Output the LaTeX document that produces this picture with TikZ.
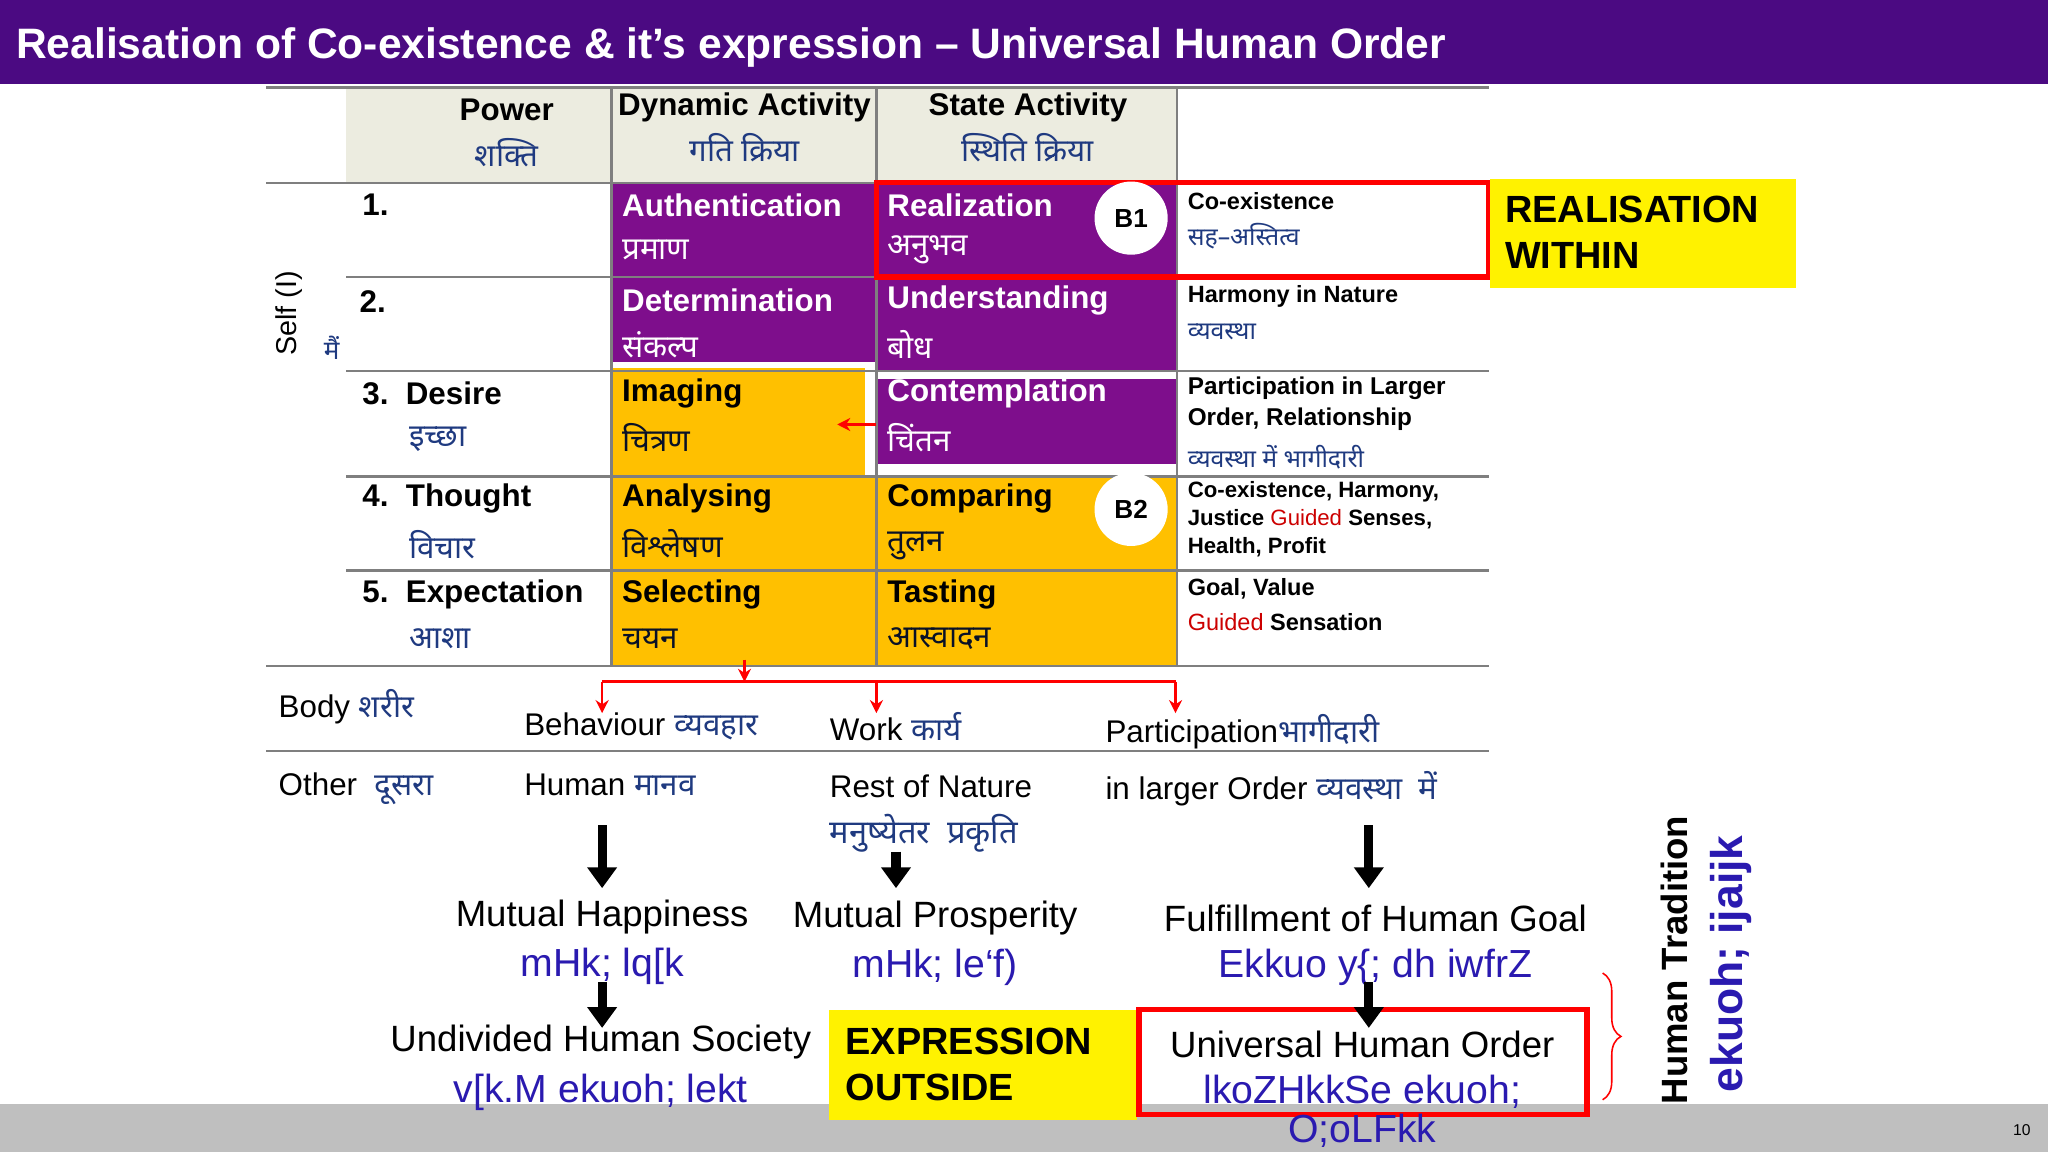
\documentclass[tikz,border=0pt]{standalone}
\usepackage{fontspec}
\setmainfont{Liberation Sans}
\newfontfamily\hin[Script=Devanagari]{Noto Sans}
\usetikzlibrary{arrows.meta,decorations.pathreplacing}
\definecolor{ttl}{HTML}{4B0A82}
\definecolor{pur}{HTML}{7E0E8C}
\definecolor{org}{HTML}{FFC000}
\definecolor{bei}{HTML}{ECECE0}
\definecolor{hb}{HTML}{1F3A80}
\definecolor{kb}{HTML}{2A1AB0}
\definecolor{gbar}{HTML}{BFBFBF}
\definecolor{gl}{HTML}{7F7F7F}
\tikzset{
 en/.style={anchor=west,inner sep=0pt,font=\fontsize{12}{13}\selectfont\bfseries},
 hi/.style={anchor=west,inner sep=0pt,font=\fontsize{12}{13}\hin,text=hb},
 wen/.style={en,text=white},
 whi/.style={hi,text=white},
 sm/.style={anchor=west,inner sep=0pt,font=\fontsize{9}{11}\selectfont\bfseries,align=left},
 smh/.style={anchor=west,inner sep=0pt,font=\fontsize{9.5}{11}\hin,text=hb},
 lo/.style={anchor=west,inner sep=0pt,font=\fontsize{12}{14}\selectfont},
 loh/.style={anchor=west,inner sep=0pt,font=\fontsize{12.5}{14}\hin,text=hb},
 big/.style={inner sep=0pt,font=\fontsize{14}{16}\selectfont},
 kru/.style={inner sep=0pt,font=\fontsize{15}{16}\selectfont,text=kb},
 rl/.style={gl,line width=1pt},
 circ/.style={circle,fill=white,minimum size=28pt,inner sep=0pt,font=\fontsize{10}{12}\selectfont\bfseries},
 rarr/.style={red,line width=1pt,-{Stealth[length=5pt,width=5pt]}},
 barr/.style={black,line width=3.5pt,-{Triangle[length=8pt,width=11pt]}},
 ybox/.style={fill=yellow,inner sep=0pt},
}
\begin{document}
\begin{tikzpicture}[x=0.5pt,y=-0.5pt]
\useasboundingbox (0,0) rectangle (1568,882);
\fill[white] (0,0) rectangle (1568,882);
% bars
\fill[ttl] (0,0) rectangle (1568,64);
\node[anchor=west,inner sep=0pt,text=white,font=\fontsize{16.3}{18}\selectfont\bfseries] (title) at (12,36) {Realisation of Co-existence \& it’s expression – Universal Human Order};
\fill[gbar] (0,845) rectangle (1568,882);
\node[inner sep=0pt,font=\fontsize{6}{7}\selectfont] (pg) at (1548,865) {10};
% table fills
\fill[bei] (265,67) rectangle (901,140);
\fill[pur] (468,140) rectangle (901,277);
\fill[pur] (671,277) rectangle (901,284);
\fill[org] (468,282) rectangle (662,365);
\fill[white] (662,282) rectangle (671,365);
\fill[pur] (671,290) rectangle (901,355);
\fill[org] (468,365) rectangle (901,510);
% lines
\draw[rl] (204,67) -- (1140,67);
\draw[rl] (204,140) -- (1140,140);
\foreach \yy in {212,284,365,437} \draw[rl] (265,\yy) -- (1140,\yy);
\draw[rl] (204,510) -- (1140,510);
\foreach \xx in {468,671,901} \draw[rl] (\xx,67) -- (\xx,510);
\draw[rl] (204,575) -- (1140,575);
\draw[red,line width=2pt] (671,140) rectangle (1140,212);
% header
\node[en,anchor=center] (hp) at (388,84) {Power};
\node[hi,anchor=center] (hph) at (388,117) {शक्ति};
\node[en,anchor=center] (hd) at (570,82) {Dynamic Activity};
\node[hi,anchor=center] (hdh) at (570,113) {गति क्रिया};
\node[en,anchor=center] (hs) at (787,82) {State  Activity};
\node[hi,anchor=center] (hsh) at (787,113) {स्थिति क्रिया};
% left labels
\node[rotate=90,inner sep=0pt,font=\fontsize{11}{13}\selectfont] (self) at (221,240) {Self (I)};
\node[inner sep=0pt,font=\fontsize{10}{12}\hin,text=hb] (mai) at (254,266) {मैं};
\node[en] (r1) at (277,157) {1.};
\node[en] (r2) at (275,231) {2.};
\node[en] (r3) at (277,301) {3.\ \ Desire};
\node[hi] (r3h) at (313,336) {इच्छा};
\node[en] (r4) at (277,382) {4.\ \ Thought};
\node[hi] (r4h) at (313,417) {विचार};
\node[en] (r5) at (277,455) {5.\ \ Expectation};
\node[hi] (r5h) at (313,489) {आशा};
% cells
\node[wen] (c1) at (476,157) {Authentication};
\node[whi] (c1h) at (476,191) {प्रमाण};
\node[wen] (c2) at (679,157) {Realization};
\node[whi] (c2h) at (679,191) {अनुभव};
\node[wen] (c3) at (476,230) {Determination};
\node[whi] (c3h) at (476,264) {संकल्प};
\node[wen] (c4) at (679,230) {Understanding};
\node[whi] (c4h) at (679,264) {बोध};
\node[en] (c5) at (476,301) {Imaging};
\node[hi,text=black!70!hb] (c5h) at (476,335) {चित्रण};
\node[wen] (c6) at (679,301) {Contemplation};
\node[whi] (c6h) at (679,335) {चिंतन};
\node[en] (c7) at (476,382) {Analysing};
\node[hi,text=black!70!hb] (c7h) at (476,416) {विश्लेषण};
\node[en] (c8) at (679,382) {Comparing};
\node[hi,text=black!70!hb] (c8h) at (679,418) {तुलन};
\node[en] (c9) at (476,455) {Selecting};
\node[hi,text=black!70!hb] (c9h) at (476,489) {चयन};
\node[en] (c10) at (679,455) {Tasting};
\node[hi,text=black!70!hb] (c10h) at (679,489) {आस्वादन};
\node[circ] (b1) at (866,167) {B1};
\node[circ] (b2) at (866,390) {B2};
% right column
\node[sm] (d1) at (909,154) {Co-existence};
\node[smh] (d1h) at (909,181) {सह–अस्तित्व};
\node[sm] (d2) at (909,227) {Harmony in Nature};
\node[smh] (d2h) at (909,254) {व्यवस्था};
\node[sm,anchor=north west,font=\fontsize{9.3}{12}\selectfont\bfseries] (d3) at (909,288) {Participation in Larger\\Order, Relationship};
\node[smh] (d3h) at (909,350) {व्यवस्था में भागीदारी};
\node[sm,anchor=north west,font=\fontsize{8.5}{10.8}\selectfont\bfseries] (d4) at (909,368) {Co-existence, Harmony,\\Justice {\mdseries\color{red!80!black}Guided} Senses,\\Health, Profit};
\node[sm] (d5) at (909,451) {Goal, Value};
\node[sm] (d5b) at (909,476) {{\mdseries\color{red!80!black}Guided} Sensation};
\node[ybox,minimum width=117.5pt,minimum height=41.5pt,anchor=north west] (rw) at (1140,137) {};
\node[anchor=west,inner sep=0pt,align=left,font=\fontsize{14.5}{17.5}\selectfont\bfseries] (rwt) at (1152,178) {REALISATION\\WITHIN};
% red arrows
\coordinate (cl) at (671,325);
\coordinate (il) at (641,325);
\draw[rarr] (cl) -- (il);
\coordinate (s0) at (570,505);
\coordinate (s1) at (570,522);
\draw[rarr] (s0) -- (s1);
\coordinate (bl) at (461,522);
\coordinate (br) at (900,522);
\coordinate (bm) at (671,522);
\draw[red,line width=1pt] (bl) -- (br);
\draw[rarr] (bl) -- ++(0,24);
\draw[rarr] (bm) -- ++(0,24);
\draw[rarr] (br) -- ++(0,24);
% body/other
\node[lo] (body) at (213,541) {Body {\hin\color{hb}शरीर}};
\node[lo] (beh) at (401,556) {Behaviour {\hin\color{hb}व्यवहार}};
\node[lo] (work) at (635,556) {Work {\hin\color{hb}कार्य}};
\node[lo] (part) at (846,560) {Participation{\hin\color{hb}भागीदारी}};
\node[lo] (oth) at (213,604) {Other \ {\hin\color{hb}दूसरा}};
\node[lo] (hum) at (401,601) {Human {\hin\color{hb}मानव}};
\node[lo] (ron) at (635,602) {Rest of Nature};
\node[loh] (ronh) at (635,638) {मनुष्येतर \ प्रकृति};
\node[lo] (ilo) at (846,604) {in larger Order {\hin\color{hb}व्यवस्था \ में}};
% outcomes
\node[big] (mh) at (461,702) {Mutual Happiness};
\node[kru] (mhk) at (461,740) {mHk; lq[k};
\node[big] (mp) at (716,703) {Mutual Prosperity};
\node[kru] (mpk) at (716,741) {mHk; le`f)};
\node[big] (fg) at (1053,703) {Fulfillment of Human Goal};
\node[kru] (fgk) at (1053,741) {Ekkuo y\{; dh iwfrZ};
\node[big] (uh) at (460,798) {Undivided Human Society};
\node[kru] (uhk) at (460,836) {v[k.M ekuoh; lekt};
\node[ybox,minimum width=118pt,minimum height=42pt,anchor=north west] (eo) at (634,773) {};
\node[anchor=west,inner sep=0pt,align=left,font=\fontsize{14.5}{17.5}\selectfont\bfseries] (eot) at (647,815) {EXPRESSION\\OUTSIDE};
\draw[red,line width=2pt] (872,773) rectangle (1215,853);
\node[big] (uo) at (1043,800) {Universal Human Order};
\node[kru] (uok) at (1043,836) {lkoZHkkSe ekuoh;};
\node[kru] (uok2) at (1043,866) {O;oLFkk};
% black arrows
\draw[barr] (461,632) -- (461,680);
\draw[barr] (686,652) -- (686,680);
\draw[barr] (1048,632) -- (1048,680);
\draw[barr] (461,752) -- (461,787);
\draw[barr] (1048,752) -- (1048,787);
% brace
\draw[red,line width=0.6pt,decorate,decoration={brace,amplitude=7pt}] (1227,745) -- (1227,842);
\node[rotate=90,inner sep=0pt,font=\fontsize{14}{15}\selectfont\bfseries] (ht) at (1282,735) {Human Tradition};
\node[rotate=90,inner sep=0pt,text=kb,font=\fontsize{17}{18}\selectfont\bfseries] (hk) at (1325,738) {ekuoh; ijaijk};
\end{tikzpicture}
\end{document}
